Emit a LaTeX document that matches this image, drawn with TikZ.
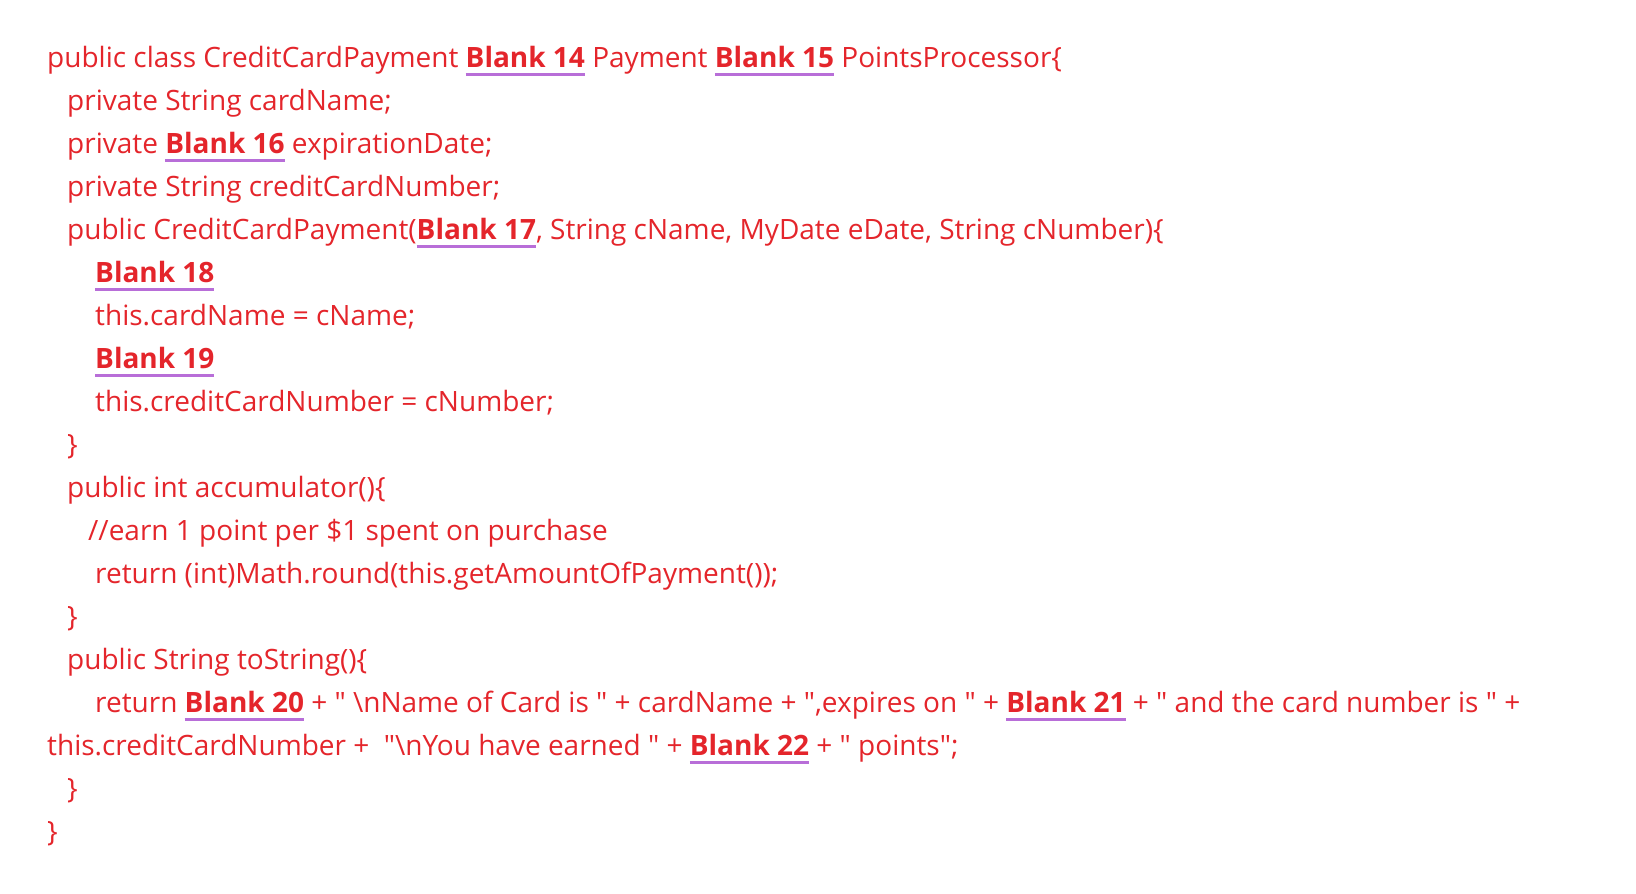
\documentclass[tikz,border=0pt]{standalone}
\usepackage{fontspec}
\setmainfont{Open Sans}[Ligatures=TeXOff]
\definecolor{codered}{HTML}{E4252B}
\definecolor{ulc}{HTML}{B86ED8}
\newcommand\bl[1]{\setbox0\hbox{\bfseries #1}\rlap{\color{ulc}\rule[-9pt]{\wd0}{2.6pt}}\box0\relax}
\newcommand\qq{{\char"22}}
\begin{document}
\begin{tikzpicture}[x=1pt,y=-1pt,
  codeline/.style={anchor=base west,inner sep=0pt,text=codered,font=\fontsize{28}{32}\selectfont}]
\useasboundingbox (0,0) rectangle (1636,894);
\node[codeline] (l1) at (47,67) {public class CreditCardPayment \bl{Blank 14}\ Payment \bl{Blank 15}\ PointsProcessor\{};
\node[codeline] (l2) at (67,110) {private String cardName;};
\node[codeline] (l3) at (67,153) {private \bl{Blank 16}\ expirationDate;};
\node[codeline] (l4) at (67,196) {private String creditCardNumber;};
\node[codeline] (l5) at (67,239) {public CreditCardPayment(\bl{Blank 17}, String cName, MyDate eDate, String cNumber)\{};
\node[codeline] (l6) at (95,282) {\bl{Blank 18}};
\node[codeline] (l7) at (95,325) {this.cardName = cName;};
\node[codeline] (l8) at (95,368) {\bl{Blank 19}};
\node[codeline] (l9) at (95,411) {this.creditCardNumber = cNumber;};
\node[codeline] (l10) at (67,454) {\}};
\node[codeline] (l11) at (67,497) {public int accumulator()\{};
\node[codeline] (l12) at (88,540) {//earn 1 point per \$1 spent on purchase};
\node[codeline] (l13) at (95,583) {return (int)Math.round(this.getAmountOfPayment());};
\node[codeline] (l14) at (67,626) {\}};
\node[codeline] (l15) at (67,669) {public String toString()\{};
\node[codeline] (l16) at (95,712) {return \bl{Blank 20}\ + \qq\ \textbackslash nName of Card is \qq\ + cardName + \qq,expires on \qq\ + \bl{Blank 21}\ + \qq\ and the card number is \qq\ +};
\node[codeline] (l17) at (47,755) {this.creditCardNumber + \ \qq\textbackslash nYou have earned \qq\ + \bl{Blank 22}\ + \qq\ points\qq;};
\node[codeline] (l18) at (67,798) {\}};
\node[codeline] (l19) at (47,841) {\}};
\end{tikzpicture}
\end{document}
